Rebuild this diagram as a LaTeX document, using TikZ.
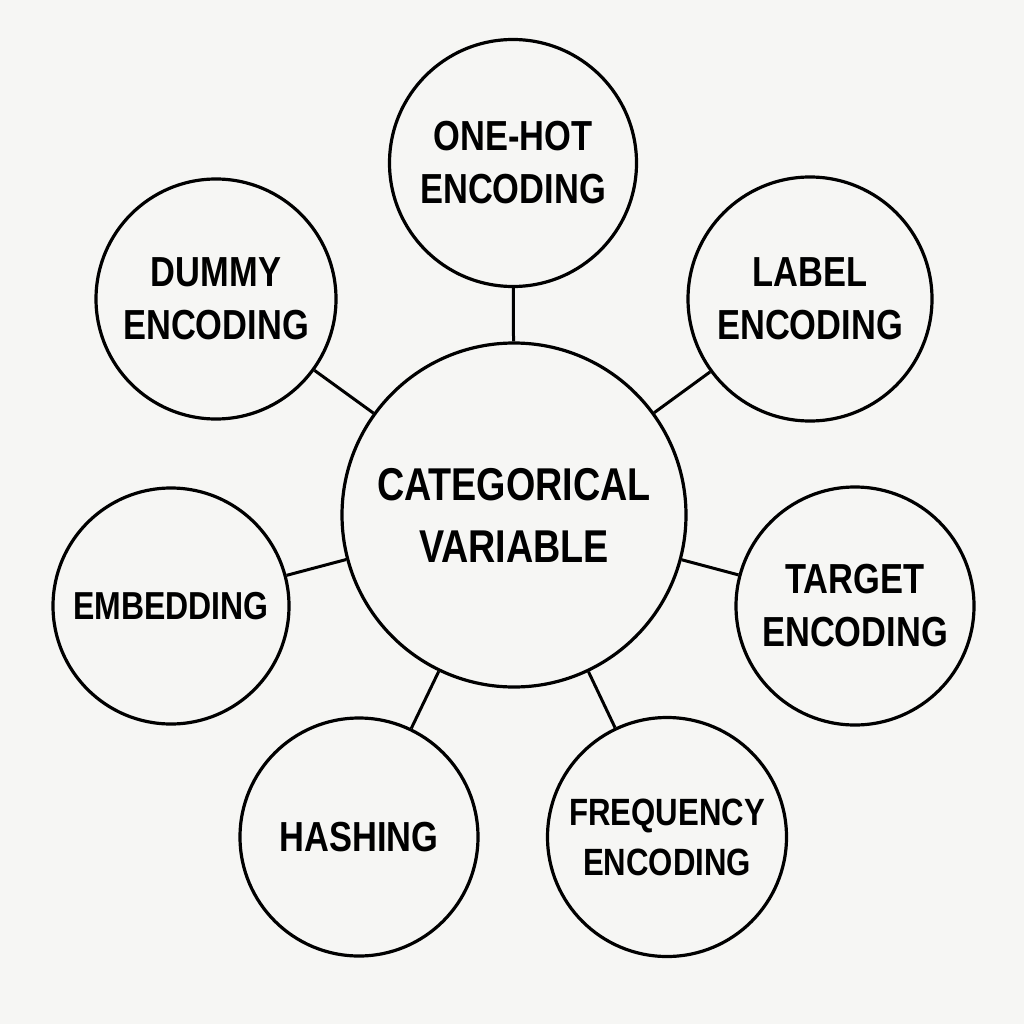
\documentclass[tikz,border=0pt]{standalone}
\usepackage{fontspec}
\newfontfamily\labfont{Liberation Sans}[FakeStretch=0.82]
\definecolor{bg}{HTML}{F6F6F4}
\tikzset{
  hub/.style={circle, draw=black, line width=3.2pt, fill=bg, inner sep=0pt,
    minimum size=344pt, align=center,
    font=\labfont\bfseries\fontsize{46}{62}\selectfont},
  leaf/.style={circle, draw=black, line width=3.2pt, fill=bg, inner sep=0pt,
    align=center, font=\labfont\bfseries\fontsize{42}{53}\selectfont},
  link/.style={draw=black, line width=3pt}
}
\begin{document}
\begin{tikzpicture}[x=1pt, y=-1pt]
\fill[bg] (0,0) rectangle (1024,1024);
\useasboundingbox (0,0) rectangle (1024,1024);
\node[hub] (c) at (514,515) {CATEGORICAL\\VARIABLE};
\node[leaf, minimum size=247pt] (onehot) at (513,163) {ONE-HOT\\ENCODING};
\node[leaf, minimum size=244pt] (label) at (810,299) {LABEL\\ENCODING};
\node[leaf, minimum size=238pt] (target) at (855,606) {TARGET\\ENCODING};
\node[leaf, minimum size=239pt, font=\labfont\bfseries\fontsize{38}{50}\selectfont] (freq) at (667,837) {FREQUENCY\\ENCODING};
\node[leaf, minimum size=238pt] (hash) at (359,837) {HASHING};
\node[leaf, minimum size=236pt, font=\labfont\bfseries\fontsize{39}{50}\selectfont] (embed) at (171,606) {EMBEDDING};
\node[leaf, minimum size=240pt] (dummy) at (216,299) {DUMMY\\ENCODING};
\foreach \n in {onehot,label,target,freq,hash,embed,dummy}
  \draw[link] (c) -- (\n);
\end{tikzpicture}
\end{document}
